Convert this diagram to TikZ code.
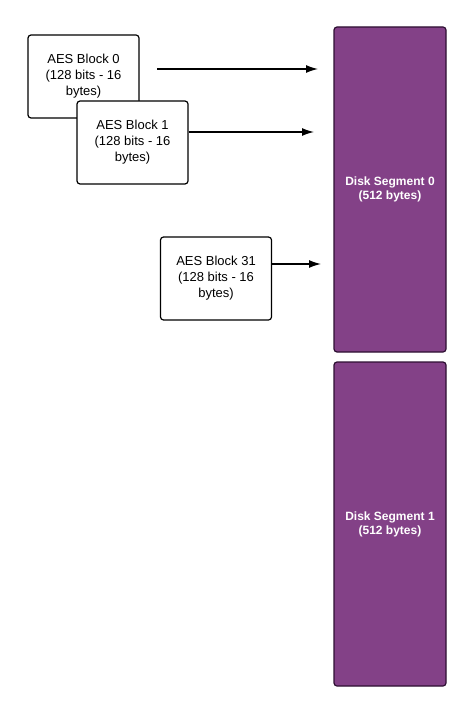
\documentclass[tikz,border=0pt]{standalone}
\usepackage{fontspec}
\setmainfont{Liberation Sans}
\usetikzlibrary{%
  arrows.meta,%
  positioning% wg. " of "
}
\definecolor{segfill}{RGB}{131,65,135}
\definecolor{segline}{RGB}{45,15,50}

\begin{document}
\begin{tikzpicture}[x=1pt,y=-1pt]
 \useasboundingbox[fill=white] (0,0) rectangle (474,714);
 \begin{scope}[aesblock/.style={draw=black,fill=white,line width=1.2pt,rounded corners=3pt,
     minimum width=111pt,minimum height=83pt,inner sep=0pt,align=center,
     font=\fontsize{13}{16}\selectfont},
   segment/.style={draw=segline,fill=segfill,line width=1.2pt,rounded corners=3pt,
     minimum width=112pt,inner sep=0pt,align=center,text=white,
     font=\fontsize{12}{14}\selectfont\bfseries},
   pfeil/.style={-{Latex[length=12pt,width=8pt]},line width=1.3pt}]
   %Disk-Segmente
   \node[segment,minimum height=325pt] (seg0) at (390,189.5) {Disk Segment 0\\(512 bytes)};
   \node[segment,minimum height=324pt] (seg1) at (390,524) {Disk Segment 1\\(512 bytes)};

   %AES-Bloecke
   \node[aesblock] (block0) at (83.5,76.5) {AES Block 0\\(128 bits - 16\\bytes)};
   \node[aesblock] (block1) at (132.5,142.5) {AES Block 1\\(128 bits - 16\\bytes)};
   \node[aesblock] (block31) at (216,278.5) {AES Block 31\\(128 bits - 16\\bytes)};

   %Pfeile
   \coordinate (a0start) at (157,69);
   \coordinate (a0end) at (318,69);
   \coordinate (a1end) at (314,132);
   \coordinate (a31end) at (321,264);
   \draw[pfeil] (a0start) -- (a0end);
   \draw[pfeil] (block1.east |- a1end) -- (a1end);
   \draw[pfeil] (block31.east |- a31end) -- (a31end);
 \end{scope}
\end{tikzpicture}
\end{document}
